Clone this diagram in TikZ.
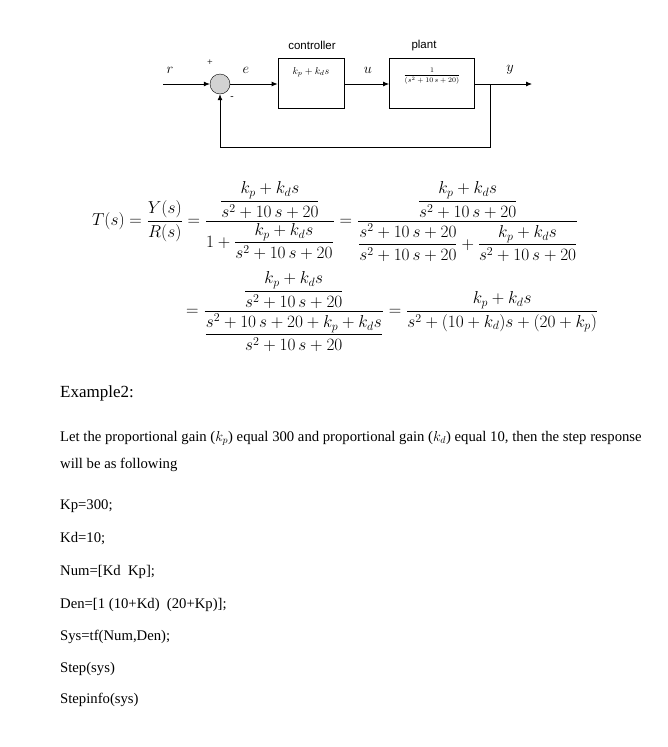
\documentclass[tikz,border=0pt]{standalone}
\usepackage{amsmath}
\usepackage{fontspec}
\setmainfont{Liberation Serif}
\newfontfamily\arialf{Liberation Sans}
\usetikzlibrary{arrows.meta}
\begin{document}
\begin{tikzpicture}[x=1pt,y=-1pt,
  blk/.style={draw,line width=0.8pt,minimum width=66pt,minimum height=50pt},
  wire/.style={line width=0.8pt},
  arr/.style={wire,-{Latex[length=6pt,width=5pt]}},
  txt/.style={anchor=west,inner sep=0pt,font=\fontsize{14.7}{16}\selectfont},
  lbl/.style={inner sep=0pt,font=\fontsize{14}{16}\selectfont},
  eqn/.style={anchor=west,inner sep=0pt,font=\fontsize{17.5}{20}\selectfont}]
\useasboundingbox (0,0) rectangle (668,747);
% block diagram
\node[circle,draw,fill=gray!35,minimum size=20pt,inner sep=0pt] (sum) at (220,84) {};
\coordinate (rin) at (163,84);
\node[blk] (ctl) at (311,83) {};
\node[blk,minimum width=85pt] (pl) at (432,83) {};
\coordinate (yout) at (532,84);
\coordinate (tap) at (490,84);
\draw[arr] (rin) -- (sum);
\draw[arr] (sum) -- (ctl.west|-sum);
\draw[arr] (ctl.east|-sum) -- (pl.west|-sum);
\draw[arr] (pl.east|-sum) -- (yout);
\draw[arr] (tap) -- (490,147) -- (220,147) -- (sum.south);
\node[lbl] (lr) at (170,70) {$r$};
\node[lbl,font=\fontsize{10}{11}\selectfont] (lp) at (210,63) {+};
\node[lbl,font=\fontsize{10}{11}\selectfont] (lm) at (232,98) {-};
\node[lbl] (le) at (246,70) {$e$};
\node[lbl] (lu) at (368,70) {$u$};
\node[lbl] (ly) at (510,70) {$y$};
\node[lbl,font=\arialf\fontsize{11.5}{12}\selectfont] (lc) at (312,45) {controller};
\node[lbl,font=\arialf\fontsize{11.5}{12}\selectfont] (lpl) at (424,46) {plant};
\node[lbl,font=\fontsize{10}{11}\selectfont] (kc) at (311,72) {$k_p+k_d s$};
\node[lbl,font=\fontsize{7.5}{8}\selectfont] (kp) at (432,76) {$\dfrac{1}{(s^2+10\,s+20)}$};
% equations
\node[eqn] (eq1) at (92,222) {$\displaystyle
T(s)=\frac{Y(s)}{R(s)}=\frac{\dfrac{k_p+k_d s}{s^2+10\,s+20}}{1+\dfrac{k_p+k_d s}{s^2+10\,s+20}}
=\frac{\dfrac{k_p+k_d s}{s^2+10\,s+20}}{\dfrac{s^2+10\,s+20}{s^2+10\,s+20}+\dfrac{k_p+k_d s}{s^2+10\,s+20}}$};
\node[eqn] (eq2) at (186,312) {$\displaystyle
=\frac{\dfrac{k_p+k_d s}{s^2+10\,s+20}}{\dfrac{s^2+10\,s+20+k_p+k_d s}{s^2+10\,s+20}}
=\frac{k_p+k_d s}{s^2+(10+k_d)s+(20+k_p)}$};
% text
\node[txt,font=\fontsize{17}{19}\selectfont] (ex) at (60,393) {Example2:};
\node[txt] (p1) at (60,438) {Let the proportional gain ($k_p$) equal 300 and proportional gain ($k_d$) equal 10, then the step response};
\node[txt] (p2) at (60,465) {will be as following};
\node[txt] (c1) at (60,506) {Kp=300;};
\node[txt] (c2) at (60,539) {Kd=10;};
\node[txt] (c3) at (60,572) {Num=[Kd\ \ Kp];};
\node[txt] (c4) at (60,605) {Den=[1 (10+Kd)\ \ (20+Kp)];};
\node[txt] (c5) at (60,637) {Sys=tf(Num,Den);};
\node[txt] (c6) at (60,669) {Step(sys)};
\node[txt] (c7) at (60,700) {Stepinfo(sys)};
\end{tikzpicture}
\end{document}
